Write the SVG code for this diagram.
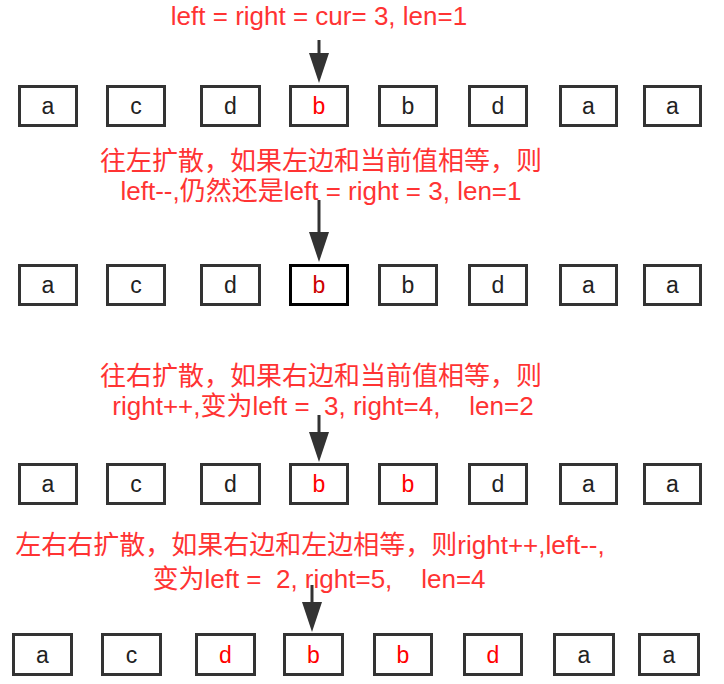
<svg xmlns="http://www.w3.org/2000/svg" width="724" height="684" viewBox="0 0 724 684">
<style>
text{font-family:"Liberation Sans","Noto Sans CJK SC",sans-serif}
.box rect{fill:#fff;stroke:#333;stroke-width:3}
.box text{font-size:23px;text-anchor:middle;fill:#222}
.box text.hl{fill:#ff0000}
.box text.dk{fill:#cc0000}
.box rect.bold{stroke:#000}
.lbl{font-size:26px;fill:#ff3333;text-anchor:middle;white-space:pre}
.conn{stroke:#333;stroke-width:3;fill:none;marker-end:url(#ah)}
</style>
<defs>
<marker id="ah" markerUnits="userSpaceOnUse" markerWidth="30" markerHeight="20" refX="20" refY="10" orient="auto" viewBox="0 0 30 20">
<path d="M0,0 L30,10 L0,20 z" fill="#333"/>
</marker>
</defs>
<rect width="724" height="684" fill="#fff"/>

<g id="label1"><text class="lbl" x="319" y="25">left = right = cur= 3, len=1</text></g>
<g id="label2"><text class="lbl" x="321" y="170">往左扩散，如果左边和当前值相等，则</text><text class="lbl" x="321" y="200">left--,仍然还是left = right = 3, len=1</text></g>
<g id="label3"><text class="lbl" x="321" y="385">往右扩散，如果右边和当前值相等，则</text><text class="lbl" x="323" y="415" xml:space="preserve">right++,变为left =  3, right=4,    len=2</text></g>
<g id="label4"><text class="lbl" x="310" y="554">左右右扩散，如果右边和左边相等，则right++,left--,</text><text class="lbl" x="319" y="588" xml:space="preserve">变为left =  2, right=5,    len=4</text></g>

<g id="connectors">
<line class="conn" x1="319" y1="40" x2="319" y2="73"/>
<line class="conn" x1="319" y1="200" x2="319" y2="252"/>
<line class="conn" x1="319" y1="415" x2="319" y2="452"/>
<line class="conn" x1="312" y1="585" x2="312" y2="622"/>
</g>

<!-- Row 1 -->
<g id="r1n0" class="box"><rect x="19.5" y="86.5" width="57" height="39"/><text x="48" y="114">a</text></g>
<g id="r1n1" class="box"><rect x="107.5" y="86.5" width="57" height="39"/><text x="136" y="114">c</text></g>
<g id="r1n2" class="box"><rect x="201.5" y="86.5" width="58" height="39"/><text x="230.5" y="114">d</text></g>
<g id="r1n3" class="box"><rect x="290.5" y="86.5" width="57" height="39"/><text class="hl" x="319" y="114">b</text></g>
<g id="r1n4" class="box"><rect x="379.5" y="86.5" width="57" height="39"/><text x="408" y="114">b</text></g>
<g id="r1n5" class="box"><rect x="469.5" y="86.5" width="57" height="39"/><text x="498" y="114">d</text></g>
<g id="r1n6" class="box"><rect x="560.5" y="86.5" width="56" height="39"/><text x="588.5" y="114">a</text></g>
<g id="r1n7" class="box"><rect x="644.5" y="86.5" width="56" height="39"/><text x="672.5" y="114">a</text></g>

<!-- Row 2 -->
<g id="r2n0" class="box"><rect x="19.5" y="265.5" width="57" height="39"/><text x="48" y="293">a</text></g>
<g id="r2n1" class="box"><rect x="107.5" y="265.5" width="57" height="39"/><text x="136" y="293">c</text></g>
<g id="r2n2" class="box"><rect x="201.5" y="265.5" width="58" height="39"/><text x="230.5" y="293">d</text></g>
<g id="r2n3" class="box"><rect class="bold" x="290.5" y="265.5" width="57" height="39"/><text class="dk" x="319" y="293">b</text></g>
<g id="r2n4" class="box"><rect x="379.5" y="265.5" width="57" height="39"/><text x="408" y="293">b</text></g>
<g id="r2n5" class="box"><rect x="469.5" y="265.5" width="57" height="39"/><text x="498" y="293">d</text></g>
<g id="r2n6" class="box"><rect x="560.5" y="265.5" width="56" height="39"/><text x="588.5" y="293">a</text></g>
<g id="r2n7" class="box"><rect x="644.5" y="265.5" width="56" height="39"/><text x="672.5" y="293">a</text></g>

<!-- Row 3 -->
<g id="r3n0" class="box"><rect x="19.5" y="464.5" width="57" height="39"/><text x="48" y="492">a</text></g>
<g id="r3n1" class="box"><rect x="107.5" y="464.5" width="57" height="39"/><text x="136" y="492">c</text></g>
<g id="r3n2" class="box"><rect x="201.5" y="464.5" width="58" height="39"/><text x="230.5" y="492">d</text></g>
<g id="r3n3" class="box"><rect x="290.5" y="464.5" width="57" height="39"/><text class="hl" x="319" y="492">b</text></g>
<g id="r3n4" class="box"><rect x="379.5" y="464.5" width="57" height="39"/><text class="hl" x="408" y="492">b</text></g>
<g id="r3n5" class="box"><rect x="469.5" y="464.5" width="57" height="39"/><text x="498" y="492">d</text></g>
<g id="r3n6" class="box"><rect x="560.5" y="464.5" width="56" height="39"/><text x="588.5" y="492">a</text></g>
<g id="r3n7" class="box"><rect x="644.5" y="464.5" width="56" height="39"/><text x="672.5" y="492">a</text></g>

<!-- Row 4 -->
<g id="r4n0" class="box"><rect x="13.5" y="634.5" width="58" height="40"/><text x="42.5" y="663">a</text></g>
<g id="r4n1" class="box"><rect x="102.5" y="634.5" width="58" height="40"/><text x="131.5" y="663">c</text></g>
<g id="r4n2" class="box"><rect x="196.5" y="634.5" width="58" height="40"/><text class="hl" x="225.5" y="663">d</text></g>
<g id="r4n3" class="box"><rect x="284.5" y="634.5" width="58" height="40"/><text class="hl" x="313.5" y="663">b</text></g>
<g id="r4n4" class="box"><rect x="374.5" y="634.5" width="57" height="40"/><text class="hl" x="403" y="663">b</text></g>
<g id="r4n5" class="box"><rect x="464.5" y="634.5" width="57" height="40"/><text class="hl" x="493" y="663">d</text></g>
<g id="r4n6" class="box"><rect x="554.5" y="634.5" width="59" height="40"/><text x="584" y="663">a</text></g>
<g id="r4n7" class="box"><rect x="639.5" y="634.5" width="59" height="40"/><text x="669" y="663">a</text></g>
</svg>
